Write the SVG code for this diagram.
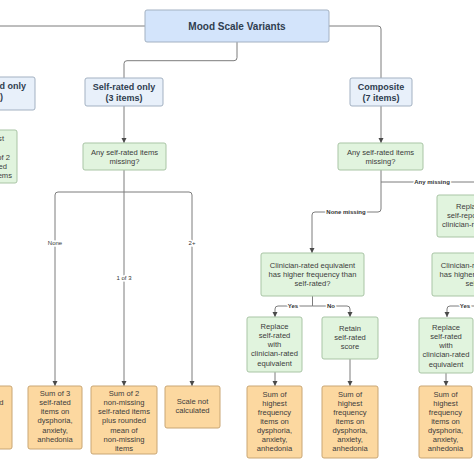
<svg xmlns="http://www.w3.org/2000/svg" width="474" height="474" viewBox="0 0 474 474">
<defs>
<style>
.blue{fill:#d3e4fb;stroke:#a3b1c2;stroke-width:1}
.lblue{fill:#e8f0fa;stroke:#a3b1c2;stroke-width:1}
.green{fill:#e1f4de;stroke:#a9c5a5;stroke-width:1}
.orange{fill:#fcd8a0;stroke:#c9a674;stroke-width:1}
.h{font-family:"Liberation Sans",Arial,sans-serif;font-weight:bold;fill:#2f3d4f;text-anchor:middle}
.t{font-family:"Liberation Sans",Arial,sans-serif;font-size:7.6px;fill:#3c3c3c;text-anchor:middle}
.te{font-family:"Liberation Sans",Arial,sans-serif;font-size:7.6px;fill:#3c3c3c;text-anchor:end}
.ts{font-family:"Liberation Sans",Arial,sans-serif;font-size:7.6px;fill:#3c3c3c;text-anchor:start}
.c{fill:none;stroke:#7d7d7d;stroke-width:1}
.lb{font-family:"Liberation Sans",Arial,sans-serif;font-size:6px;font-weight:bold;fill:#333;text-anchor:middle;stroke:#fff;stroke-width:3;paint-order:stroke}
.lr{font-family:"Liberation Sans",Arial,sans-serif;font-size:6px;fill:#333;text-anchor:middle;stroke:#fff;stroke-width:3;paint-order:stroke}
</style>
<marker id="ah" markerUnits="userSpaceOnUse" markerWidth="6" markerHeight="6" refX="5" refY="3" orient="auto">
<path d="M0,0.5 L5,3 L0,5.5 z" fill="#4a4a4a"/>
</marker>
</defs>

<g id="connectors">
<path class="c" d="M145,26 H-10"/>
<path class="c" d="M237,42 V57.7 Q237,60.7 234,60.7 H127 Q124,60.7 124,63.7 V78"/>
<path class="c" d="M329,26 H378 Q381,26 381,29 V78"/>
<path class="c" d="M124,106 V143" marker-end="url(#ah)"/>
<path class="c" d="M381,106 V143" marker-end="url(#ah)"/>
<path class="c" d="M124,170 V386" marker-end="url(#ah)"/>
<path class="c" d="M124,192 H58 Q55,192 55,195 V386" marker-end="url(#ah)"/>
<path class="c" d="M124,192 H189 Q192,192 192,195 V386" marker-end="url(#ah)"/>
<path class="c" d="M381,170 V182 H487 Q490,182 490,185 V195" marker-end="url(#ah)"/>
<path class="c" d="M381,182 V209 Q381,212 378,212 H315 Q312,212 312,215 V253" marker-end="url(#ah)"/>
<path class="c" d="M312.5,296 V306 H278 Q275,306 275,309 V317" marker-end="url(#ah)"/>
<path class="c" d="M312.5,306 H347 Q350,306 350,309 V317" marker-end="url(#ah)"/>
<path class="c" d="M275,372 V386" marker-end="url(#ah)"/>
<path class="c" d="M350,359 V386" marker-end="url(#ah)"/>
<path class="c" d="M485,237 V253" marker-end="url(#ah)"/>
<path class="c" d="M483.5,296 V306 H450 Q447,306 447,309 V317" marker-end="url(#ah)"/>
<path class="c" d="M446,373 V386" marker-end="url(#ah)"/>
<text class="lr" x="55" y="245">None</text>
<text class="lr" x="124" y="280">1 of 3</text>
<text class="lr" x="192" y="245">2+</text>
<text class="lb" x="432" y="184">Any missing</text>
<text class="lb" x="346" y="214">None missing</text>
<text class="lb" x="293" y="308">Yes</text>
<text class="lb" x="331" y="308">No</text>
<text class="lb" x="465" y="308">Yes</text>
</g>

<g id="root">
<rect class="blue" x="145" y="10" width="184" height="32" rx="2"/>
<text class="h" x="237" y="29.5" font-size="10">Mood Scale Variants</text>
</g>

<g id="clinician-only">
<rect class="lblue" x="-80" y="77" width="115" height="33" rx="2"/>
<text class="h" x="26" y="88.5" font-size="9" style="text-anchor:end">Clinician-rated only</text>
<text class="h" x="3" y="100" font-size="9" style="text-anchor:end">(4 items)</text>
</g>

<g id="clinician-only-rule">
<rect class="green" x="-90" y="130" width="107" height="53" rx="2"/>
<text class="te" x="4" y="140.7">Sum of highest</text>
<text class="te" x="-3" y="149.7">frequency items</text>
<text class="te" x="10" y="159.7">or sum of 2</text>
<text class="te" x="7" y="168.7">non-missing rated</text>
<text class="te" x="12" y="177.7">items</text>
</g>

<g id="clinician-only-score">
<rect class="orange" x="-60" y="386" width="72" height="63" rx="2"/>
<text class="t" x="-20" y="395.7">Sum of 3</text>
<text class="t" x="-20" y="404.9">clinician-rated</text>
<text class="t" x="-20" y="414.1">items on</text>
<text class="t" x="-20" y="423.3">dysphoria,</text>
<text class="t" x="-20" y="432.5">anxiety,</text>
<text class="t" x="-20" y="441.7">anhedonia</text>
</g>

<g id="self-rated-only">
<rect class="lblue" x="85" y="78" width="78" height="28" rx="2"/>
<text class="h" x="124" y="90.2" font-size="9">Self-rated only</text>
<text class="h" x="124" y="101.2" font-size="9">(3 items)</text>
</g>

<g id="self-missing-q">
<rect class="green" x="83" y="143" width="83" height="27" rx="2"/>
<text class="t" x="124.5" y="154.6">Any self-rated items</text>
<text class="t" x="124.5" y="163.8">missing?</text>
</g>

<g id="self-none">
<rect class="orange" x="28" y="386" width="54" height="63" rx="2"/>
<text class="t" x="55" y="395.7">Sum of 3</text>
<text class="t" x="55" y="404.9">self-rated</text>
<text class="t" x="55" y="414.1">items on</text>
<text class="t" x="55" y="423.3">dysphoria,</text>
<text class="t" x="55" y="432.5">anxiety,</text>
<text class="t" x="55" y="441.7">anhedonia</text>
</g>

<g id="self-one">
<rect class="orange" x="91" y="386" width="66" height="68" rx="2"/>
<text class="t" x="124" y="395.7">Sum of 2</text>
<text class="t" x="124" y="404.9">non-missing</text>
<text class="t" x="124" y="414.1">self-rated items</text>
<text class="t" x="124" y="423.3">plus rounded</text>
<text class="t" x="124" y="432.5">mean of</text>
<text class="t" x="124" y="441.7">non-missing</text>
<text class="t" x="124" y="450.9">items</text>
</g>

<g id="self-two">
<rect class="orange" x="165" y="386" width="55" height="42" rx="2"/>
<text class="t" x="192.5" y="403.7">Scale not</text>
<text class="t" x="192.5" y="412.9">calculated</text>
</g>

<g id="composite">
<rect class="lblue" x="350" y="78" width="62" height="28" rx="2"/>
<text class="h" x="381" y="90.2" font-size="9">Composite</text>
<text class="h" x="381" y="101.2" font-size="9">(7 items)</text>
</g>

<g id="comp-missing-q">
<rect class="green" x="338" y="143" width="85" height="27" rx="2"/>
<text class="t" x="380.5" y="154.6">Any self-rated items</text>
<text class="t" x="380.5" y="163.8">missing?</text>
</g>

<g id="comp-freq-q">
<rect class="green" x="261" y="253" width="103" height="43" rx="2"/>
<text class="t" x="312.5" y="268">Clinician-rated equivalent</text>
<text class="t" x="312.5" y="277.2">has higher frequency than</text>
<text class="t" x="312.5" y="286.4">self-rated?</text>
</g>

<g id="comp-replace">
<rect class="green" x="247" y="317" width="55" height="55" rx="2"/>
<text class="t" x="274.5" y="328.8">Replace</text>
<text class="t" x="274.5" y="338">self-rated</text>
<text class="t" x="274.5" y="347.2">with</text>
<text class="t" x="274.5" y="356.4">clinician-rated</text>
<text class="t" x="274.5" y="365.6">equivalent</text>
</g>

<g id="comp-retain">
<rect class="green" x="322" y="317" width="56" height="42" rx="2"/>
<text class="t" x="350" y="330.5">Retain</text>
<text class="t" x="350" y="339.7">self-rated</text>
<text class="t" x="350" y="348.9">score</text>
</g>

<g id="comp-sum-1">
<rect class="orange" x="247" y="386" width="55" height="72" rx="2"/>
<text class="t" x="274.5" y="396.7">Sum of</text>
<text class="t" x="274.5" y="405.8">highest</text>
<text class="t" x="274.5" y="414.9">frequency</text>
<text class="t" x="274.5" y="424">items on</text>
<text class="t" x="274.5" y="433.1">dysphoria,</text>
<text class="t" x="274.5" y="442.2">anxiety,</text>
<text class="t" x="274.5" y="451.3">anhedonia</text>
</g>

<g id="comp-sum-2">
<rect class="orange" x="322" y="386" width="56" height="72" rx="2"/>
<text class="t" x="350" y="396.7">Sum of</text>
<text class="t" x="350" y="405.8">highest</text>
<text class="t" x="350" y="414.9">frequency</text>
<text class="t" x="350" y="424">items on</text>
<text class="t" x="350" y="433.1">dysphoria,</text>
<text class="t" x="350" y="442.2">anxiety,</text>
<text class="t" x="350" y="451.3">anhedonia</text>
</g>

<g id="any-replace">
<rect class="green" x="437" y="195" width="96" height="42" rx="2"/>
<text class="ts" x="456" y="208.7">Replace missing</text>
<text class="ts" x="447" y="217.9">self-reported with</text>
<text class="ts" x="442" y="227.1">clinician-rated equivalent</text>
</g>

<g id="any-freq-q">
<rect class="green" x="432" y="253" width="103" height="43" rx="2"/>
<text class="t" x="483.5" y="268">Clinician-rated equivalent</text>
<text class="t" x="483.5" y="277.2">has higher frequency than</text>
<text class="t" x="483.5" y="286.4">self-rated?</text>
</g>

<g id="any-replace-2">
<rect class="green" x="419" y="318" width="54" height="55" rx="2"/>
<text class="t" x="446" y="329.8">Replace</text>
<text class="t" x="446" y="339">self-rated</text>
<text class="t" x="446" y="348.2">with</text>
<text class="t" x="446" y="357.4">clinician-rated</text>
<text class="t" x="446" y="366.6">equivalent</text>
</g>

<g id="any-sum">
<rect class="orange" x="419" y="386" width="53" height="72" rx="2"/>
<text class="t" x="445.5" y="396.7">Sum of</text>
<text class="t" x="445.5" y="405.8">highest</text>
<text class="t" x="445.5" y="414.9">frequency</text>
<text class="t" x="445.5" y="424">items on</text>
<text class="t" x="445.5" y="433.1">dysphoria,</text>
<text class="t" x="445.5" y="442.2">anxiety,</text>
<text class="t" x="445.5" y="451.3">anhedonia</text>
</g>
</svg>
